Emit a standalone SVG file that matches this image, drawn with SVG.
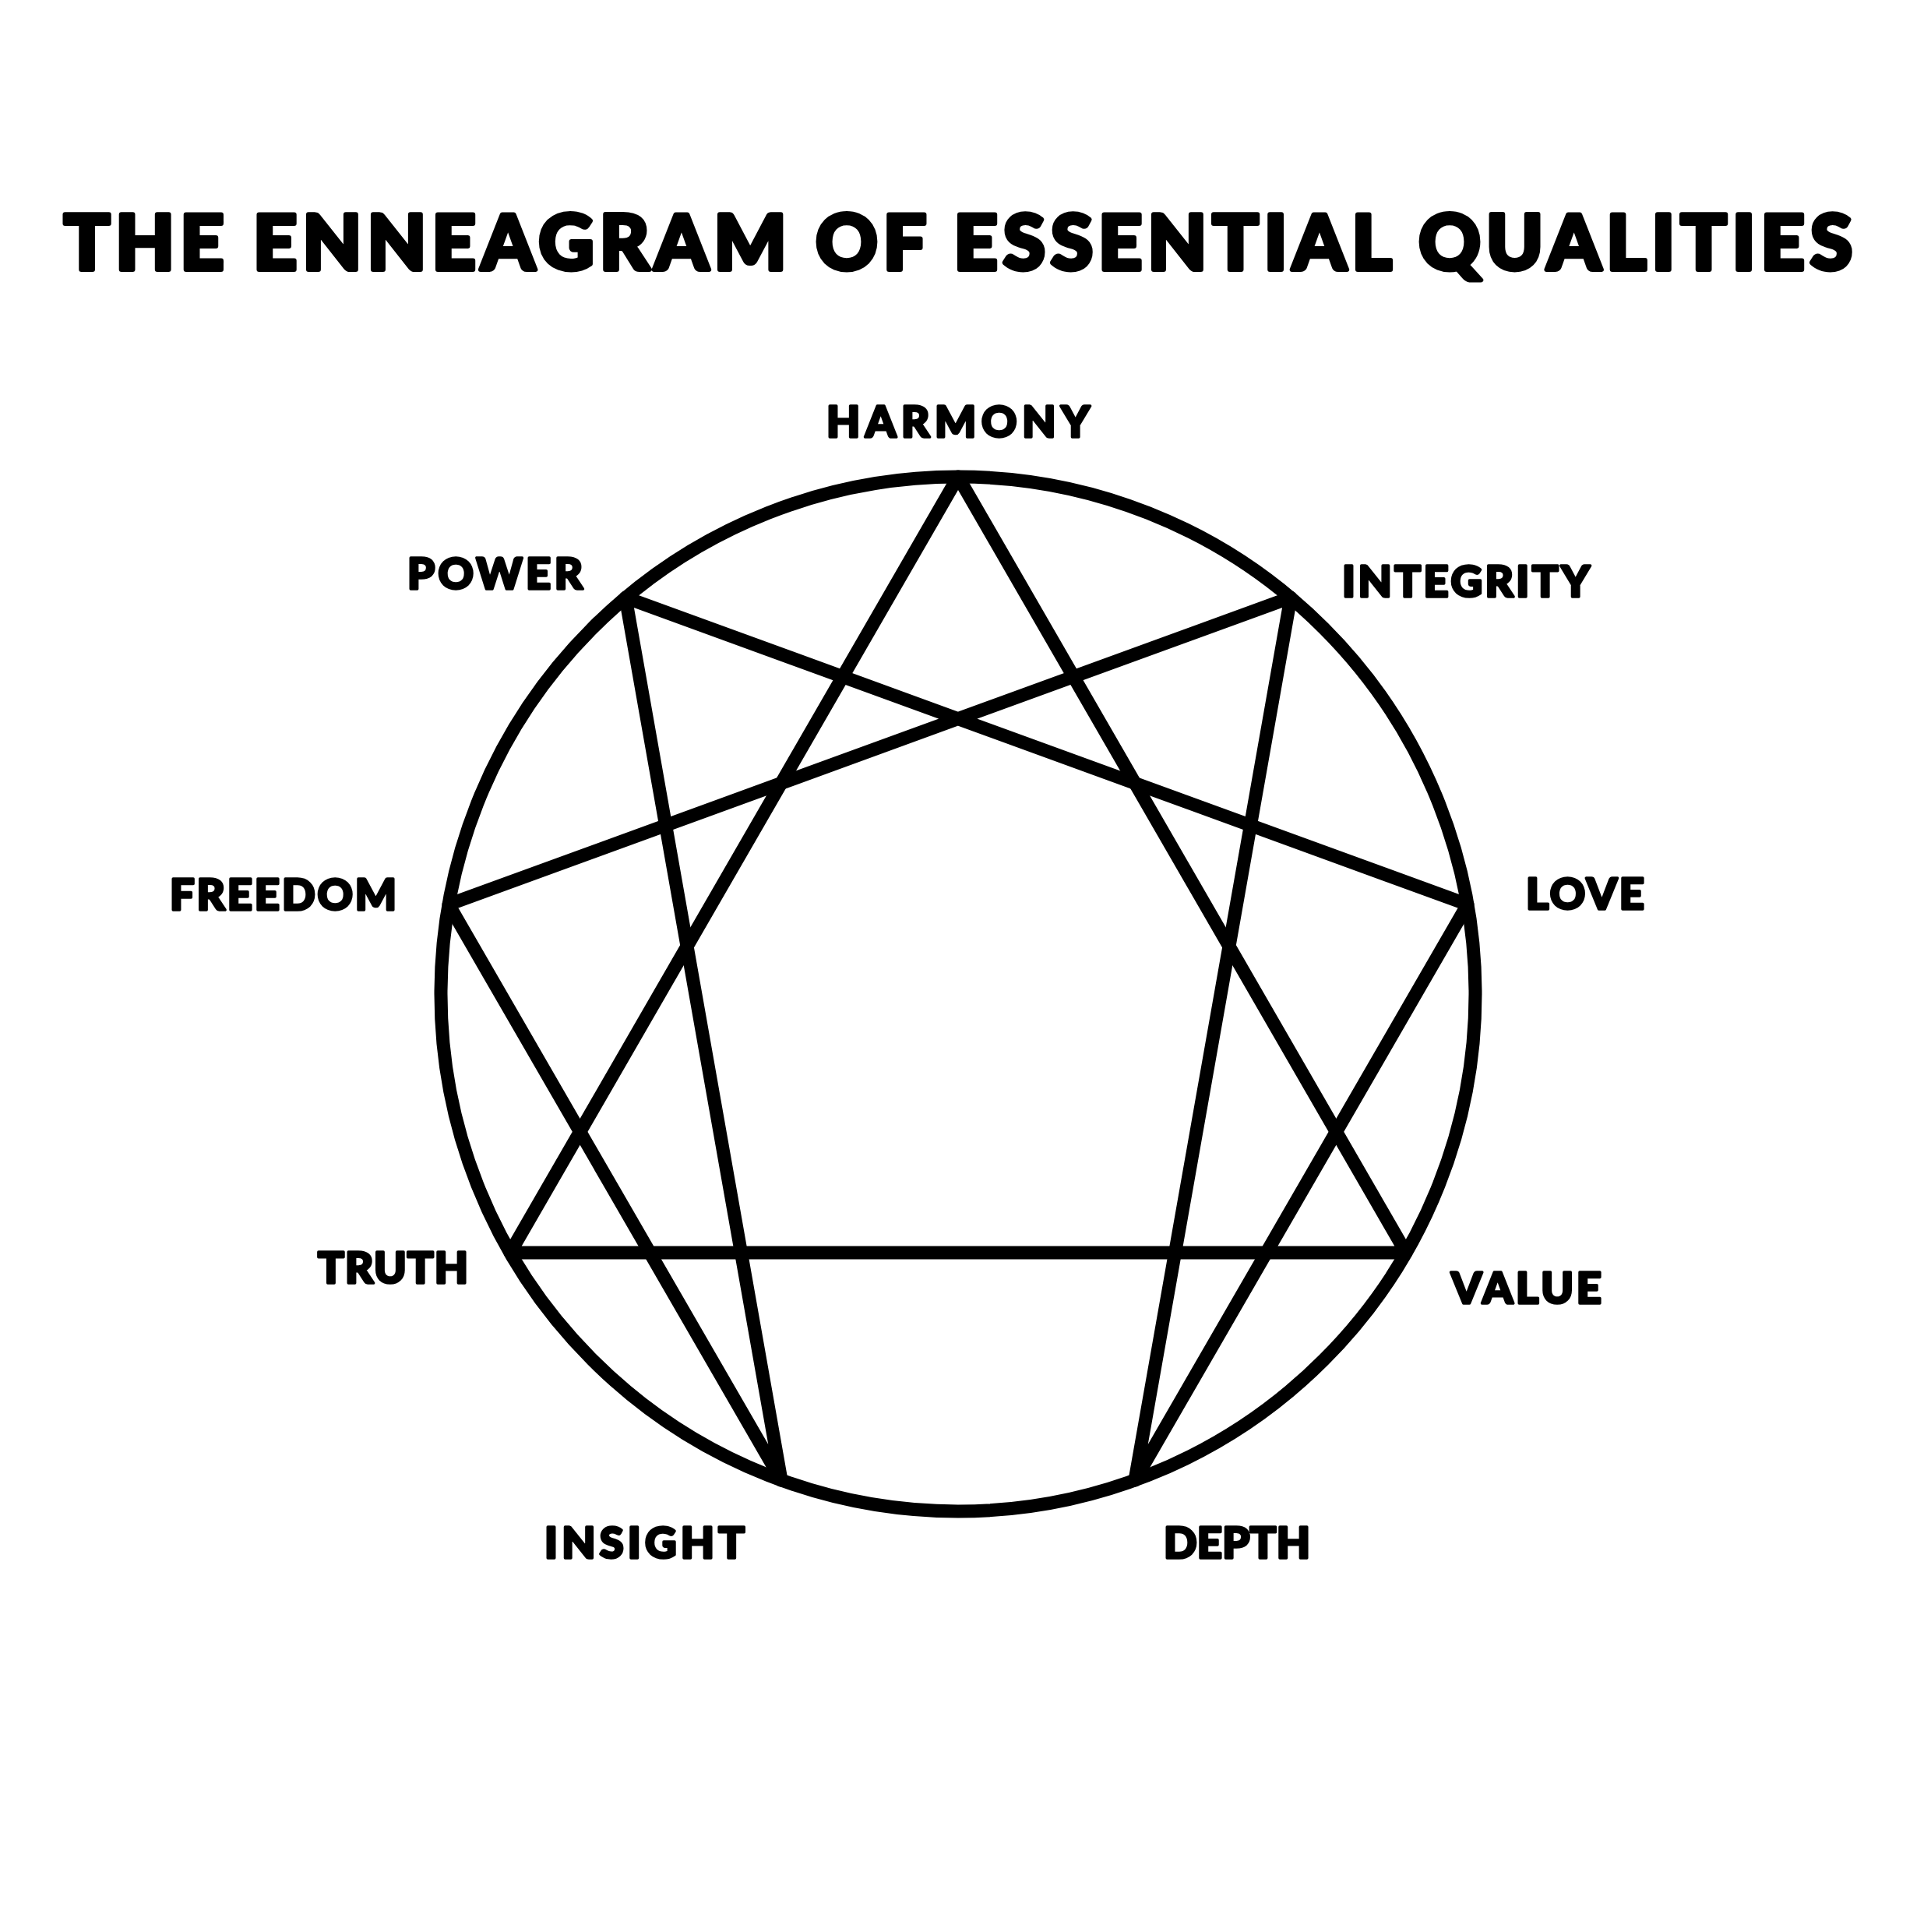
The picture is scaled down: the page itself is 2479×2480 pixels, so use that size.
<svg xmlns="http://www.w3.org/2000/svg" width="2479" height="2480" viewBox="0 0 2479 2480">
<style>
.ln{fill:none;stroke:#000;stroke-width:17;stroke-linejoin:round;stroke-linecap:round}
.lbl{font-family:"Lato","DejaVu Sans",sans-serif;font-weight:900;font-size:56px;fill:#000;stroke:#000;stroke-width:3.5;stroke-linejoin:round}
.title{font-size:98px;stroke-width:6}
</style>
<rect x="0" y="0" width="2479" height="2480" fill="#fff"/>
<text id="title" class="lbl title" x="82" y="346" textLength="2296">THE ENNEAGRAM OF ESSENTIAL QUALITIES</text>
<g id="circle"><circle class="ln" cx="1230" cy="1276" r="664"/></g>
<g id="connectors">
<polygon id="triangle" class="ln" points="1230,612 1805,1608 655,1608"/>
<polygon id="hexad" class="ln" points="1657,767 1457,1900 1884,1161 803,767 1003,1900 576,1161"/>
</g>
<g id="n9"><text class="lbl" x="1061" y="561" textLength="338">HARMONY</text></g>
<g id="n1"><text class="lbl" x="1723" y="766" textLength="318">INTEGRITY</text></g>
<g id="n2"><text class="lbl" x="1959" y="1167" textLength="152">LOVE</text></g>
<g id="n3"><text class="lbl" x="1863" y="1673" textLength="193">VALUE</text></g>
<g id="n4"><text class="lbl" x="1494" y="2000" textLength="188">DEPTH</text></g>
<g id="n5"><text class="lbl" x="699" y="2000" textLength="257">INSIGHT</text></g>
<g id="n6"><text class="lbl" x="408" y="1647" textLength="193">TRUTH</text></g>
<g id="n7"><text class="lbl" x="218" y="1168" textLength="291">FREEDOM</text></g>
<g id="n8"><text class="lbl" x="523" y="756" textLength="225">POWER</text></g>
</svg>
